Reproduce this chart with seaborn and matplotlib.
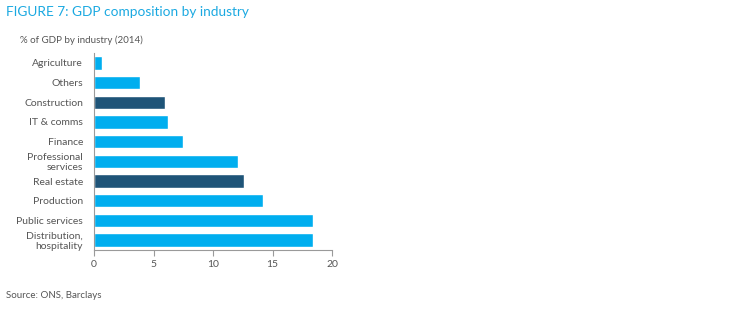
import matplotlib
matplotlib.use("Agg")
import matplotlib.pyplot as plt
import seaborn as sns
import pandas as pd

categories = ["Agriculture", "Others", "Construction", "IT & comms", "Finance",
              "Professional\nservices", "Real estate", "Production",
              "Public services", "Distribution,\nhospitality"]
values = [0.67, 3.87, 5.97, 6.2, 7.49, 12.12, 12.62, 14.2, 18.43, 18.43]
highlight = [False, False, True, False, False, False, True, False, False, False]
xticks = [0, 5, 10, 15, 20]

LIGHT = "#00AEEF"
DARK = "#1E5478"

sns.set_theme(style="white")
plt.rcParams['font.family'] = ['Lato', 'DejaVu Sans']

df = pd.DataFrame({"cat": categories, "val": values, "hl": highlight})
palette = [DARK if h else LIGHT for h in highlight]

fig = plt.figure(figsize=(7.3, 3.24), dpi=100)
ax = fig.add_axes([94/730, 1-250/324, (332-94)/730, (250-53)/324])
sns.barplot(data=df, x="val", y="cat", hue="cat", palette=palette, legend=False,
            orient="h", width=0.68, ax=ax, saturation=1)

ax.set_xlim(0, 20)
ax.set_ylim(9.5, -0.5)
ax.set_xticks(xticks)
ax.set_xlabel("")
ax.set_ylabel("")
for s in ["top", "right"]:
    ax.spines[s].set_visible(False)
for s in ["left", "bottom"]:
    ax.spines[s].set_color("#9a9a9a")
    ax.spines[s].set_linewidth(0.8)
ax.tick_params(axis="x", bottom=True, length=4, width=0.8, color="#9a9a9a",
               labelsize=7.5, labelcolor="#555555", pad=3)
ax.tick_params(axis="y", left=False, labelsize=7.5, labelcolor="#555555", pad=2)
for lbl in ax.get_yticklabels():
    lbl.set_horizontalalignment("right")
    lbl.set_multialignment("right")
    lbl.set_linespacing(1.15)

fig.text(6/730, 1-12/324, "FIGURE 7: GDP composition by industry", color="#1BA9E1",
         fontsize=9.8, va="center", ha="left")
fig.text(20/730, 1-40/324, "% of GDP by industry (2014)", color="#555555",
         fontsize=7, va="center", ha="left")
fig.text(6/730, 1-296/324, "Source: ONS, Barclays", color="#555555",
         fontsize=7, va="center", ha="left")

fig.savefig("out.png", dpi=100, facecolor="white")
